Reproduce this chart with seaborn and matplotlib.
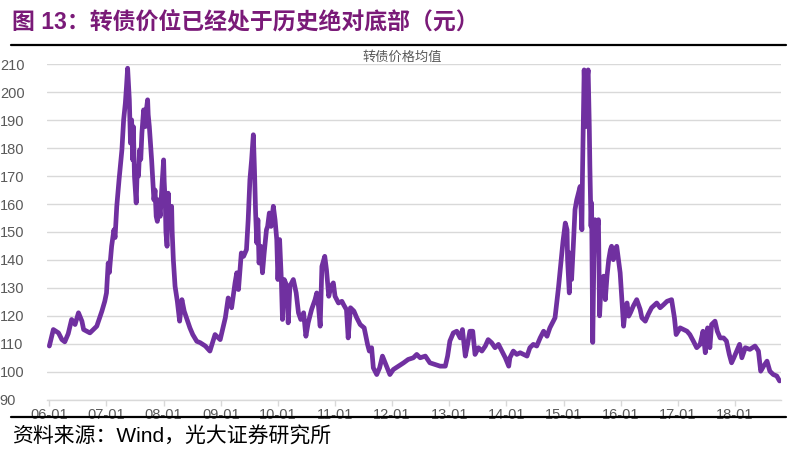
import numpy as np
import pandas as pd
import matplotlib
matplotlib.use("Agg")
import matplotlib.pyplot as plt
import seaborn as sns
from matplotlib.lines import Line2D

# ---------------- data ----------------
# time as years elapsed since 2006-01-01, and the average convertible-bond price
years_since_2006 = [
    0.00, 0.07, 0.16, 0.22, 0.27, 0.33, 0.39, 0.45, 0.51, 0.57, 0.60, 0.71, 0.83, 0.92,
    0.97, 1.00, 1.03, 1.05, 1.09, 1.13, 1.15, 1.18, 1.22, 1.27,
    1.30, 1.33, 1.35, 1.37, 1.38, 1.40, 1.42, 1.44, 1.46, 1.47,
    1.49, 1.52, 1.54, 1.56, 1.58, 1.60, 1.62, 1.65, 1.68, 1.70,
    1.72, 1.73, 1.75, 1.79, 1.83, 1.85, 1.87, 1.89, 1.91, 1.94,
    1.97, 2.00, 2.01, 2.03, 2.04, 2.06, 2.08, 2.09, 2.11, 2.14,
    2.15, 2.17, 2.20,
    2.24, 2.28, 2.32, 2.36, 2.40, 2.46, 2.51, 2.58, 2.64, 2.73, 2.81, 2.90, 2.99, 3.08, 3.13, 3.19,
    3.25, 3.28, 3.31, 3.36, 3.40, 3.45, 3.48, 3.51, 3.54, 3.57,
    3.59, 3.61, 3.63, 3.65, 3.67, 3.70, 3.73, 3.76, 3.80, 3.82,
    3.85, 3.88, 3.92, 3.95, 3.98, 4.00, 4.03, 4.06, 4.08, 4.11,
    4.16, 4.18, 4.21, 4.27, 4.32, 4.36, 4.40, 4.45, 4.49, 4.53,
    4.59, 4.65, 4.68, 4.71, 4.74, 4.77, 4.82, 4.85, 4.89, 4.93,
    4.97, 5.00, 5.06, 5.12,
    5.15, 5.20, 5.23, 5.27, 5.33, 5.38, 5.44, 5.51, 5.57, 5.60, 5.64, 5.67, 5.73, 5.78,
    5.83, 5.89, 5.96, 6.02, 6.11, 6.20, 6.28, 6.37, 6.43, 6.49, 6.58, 6.66, 6.75, 6.84, 6.93,
    6.97, 7.01, 7.07, 7.13, 7.19, 7.23, 7.28, 7.32, 7.36, 7.41, 7.45, 7.51, 7.57, 7.63, 7.68,
    7.74, 7.80, 7.86, 7.92, 7.98, 8.04, 8.06, 8.12, 8.18, 8.24, 8.30, 8.36, 8.41, 8.47, 8.53,
    8.59, 8.65, 8.71, 8.76, 8.85, 8.91, 8.95, 8.99,
    9.03, 9.06, 9.07, 9.10, 9.11, 9.14, 9.17, 9.20, 9.23, 9.26,
    9.29, 9.32, 9.33, 9.36, 9.39, 9.41, 9.43, 9.45, 9.46, 9.48,
    9.49, 9.51, 9.53, 9.55, 9.57, 9.61, 9.63, 9.66, 9.70, 9.73,
    9.76, 9.79, 9.82, 9.84, 9.87, 9.90, 9.93, 9.96, 9.99, 10.02,
    10.05, 10.08, 10.11, 10.14, 10.17, 10.22, 10.28, 10.34,
    10.37, 10.43, 10.48, 10.54, 10.63, 10.69, 10.75, 10.81, 10.89, 10.94, 10.97, 11.04,
    11.10, 11.16, 11.21, 11.27, 11.33, 11.39, 11.44, 11.48, 11.52, 11.56, 11.59, 11.65, 11.69,
    11.74, 11.80, 11.85, 11.90, 11.94, 11.98, 12.03, 12.08, 12.12, 12.18, 12.26, 12.35, 12.41,
    12.45, 12.50, 12.56, 12.61, 12.67, 12.73, 12.78,
]
avg_price = [
    109.2, 115.1, 113.9, 111.5, 110.7, 113.6, 118.7, 116.9, 121.1, 118.1, 115.1, 113.9, 116.3, 121.7,
    125.2, 128.2, 138.9, 135.5, 144.9, 150.8, 148.0, 159.2, 168.7, 179.4,
    190.1, 196.1, 202.0, 208.6, 205.0, 197.3, 181.8, 190.1, 175.8, 187.7,
    169.9, 160.4, 173.5, 170.0, 179.4, 176.0, 185.4, 193.7, 187.7, 194.0,
    197.3, 192.0, 187.7, 175.8, 161.5, 165.0, 155.6, 153.8, 161.5, 155.6,
    166.3, 175.8, 168.0, 160.0, 150.0, 144.9, 163.9, 152.0, 155.6, 159.2,
    150.0, 140.1, 130.6,
    125.2, 118.1, 125.8, 121.7, 119.3, 115.7, 113.3, 110.9, 110.4, 109.2, 107.4, 113.3, 111.5, 119.3, 126.4, 122.9,
    131.8, 135.4, 129.4, 142.5, 141.3, 143.7, 154.4, 168.7, 175.8, 184.8,
    172.3, 156.8, 146.1, 154.4, 138.9, 144.9, 135.4, 142.5, 150.8, 152.0,
    156.8, 152.0, 159.2, 154.4, 147.3, 133.0, 147.3, 133.0, 118.7, 133.0,
    130.6, 117.5, 130.6, 133.0, 128.2, 121.1, 118.7, 121.1, 112.7, 117.5,
    122.3, 125.8, 128.2, 123.5, 116.3, 137.7, 141.3, 136.5, 127.0, 130.6,
    131.8, 127.0, 124.6, 125.2,
    124.0, 122.2, 112.1, 122.9, 121.7, 119.3, 116.9, 115.7, 109.7, 107.4, 108.6, 101.4, 99.0, 101.4,
    105.6, 102.6, 99.0, 100.8, 102.0, 103.2, 104.4, 105.0, 106.2, 105.0, 105.6, 103.2, 102.6, 102.0, 102.0,
    105.6, 111.0, 113.9, 114.5, 112.1, 115.1, 105.6, 109.8, 114.5, 114.5, 106.2, 108.6, 107.4, 109.2, 111.5,
    110.4, 108.6, 109.8, 107.4, 105.0, 102.0, 105.0, 107.4, 106.2, 106.8, 106.2, 105.6, 108.6, 109.8, 109.2,
    112.1, 114.5, 112.7, 115.7, 119.3, 130.0, 138.3, 146.7,
    153.2, 150.8, 140.1, 128.2, 142.5, 133.0, 145.0, 158.0, 161.5, 163.9,
    166.3, 150.8, 169.9, 208.0, 187.7, 204.4, 208.0, 187.7, 173.5, 152.0,
    160.4, 110.5, 140.1, 154.4, 148.5, 154.4, 120.0, 133.0, 134.2, 125.8,
    134.2, 140.1, 143.7, 144.9, 140.1, 143.7, 144.9, 140.1, 135.4, 125.8,
    116.3, 122.3, 124.6, 119.9, 121.1, 123.5, 125.8, 122.3,
    119.3, 118.1, 120.5, 122.9, 124.6, 122.9, 124.0, 125.2, 125.8, 119.3, 113.3, 115.7,
    115.1, 114.5, 113.3, 111.0, 108.6, 109.8, 114.5, 106.8, 115.7, 108.6, 116.9, 118.1, 114.5,
    112.1, 112.1, 111.0, 106.2, 103.2, 105.0, 107.4, 109.8, 105.0, 108.6, 108.0, 109.2, 107.4,
    100.2, 102.0, 103.8, 100.2, 99.0, 98.5, 96.7,
]
series_name = "转债价格均值"
x_tick_years = list(range(2006, 2019))
x_tick_labels = ["06-01", "07-01", "08-01", "09-01", "10-01", "11-01", "12-01",
                 "13-01", "14-01", "15-01", "16-01", "17-01", "18-01"]
y_ticks = [90, 100, 110, 120, 130, 140, 150, 160, 170, 180, 190, 200, 210]
title_text = "图 13：转债价位已经处于历史绝对底部（元）"
source_text = "资料来源：Wind，光大证券研究所"

# ---------------- build frame ----------------
base = pd.Timestamp("2006-01-01")
dates = base + pd.to_timedelta(np.array(years_since_2006) * 365.25, unit="D")
df = pd.DataFrame({"date": dates, "value": avg_price})

sns.set_theme(style="white")
plt.rcParams["font.family"] = ["Liberation Sans", "Noto Sans CJK SC", "DejaVu Sans"]

W, H = 796, 454
fig = plt.figure(figsize=(W / 100, H / 100), dpi=100)
ax = fig.add_axes([47 / W, 1 - 399.7 / H, (781 - 47) / W, (399.7 - 64.3) / H])

line_color = "#7030A0"
sns.lineplot(data=df, x="date", y="value", ax=ax, color=line_color,
             linewidth=3.4, legend=False, solid_joinstyle="round")

ax.set_ylim(90, 210)
x0 = base - pd.Timedelta(days=15)
x1 = base + pd.Timedelta(days=12.805 * 365.25)
ax.set_xlim(x0, x1)

ax.set_yticks(y_ticks)
ax.set_yticklabels([str(v) for v in y_ticks])
ax.set_xticks([pd.Timestamp(f"{y}-01-01") for y in x_tick_years])
ax.set_xticklabels(x_tick_labels)

ax.set_xlabel("")
ax.set_ylabel("")
for s in ["top", "right", "left"]:
    ax.spines[s].set_visible(False)
ax.spines["bottom"].set_color("#D9D9D9")
ax.spines["bottom"].set_linewidth(1.0)

ax.grid(axis="y", color="#D9D9D9", linewidth=1.0)
ax.grid(axis="x", visible=False)
ax.set_axisbelow(True)

ax.tick_params(axis="x", length=4, width=1, color="#D9D9D9", labelsize=10.5,
               labelcolor="#595959", pad=2, direction="out", bottom=True)
ax.tick_params(axis="y", length=0, labelsize=10.5, labelcolor="#595959", pad=34)
for lab in ax.get_yticklabels():
    lab.set_horizontalalignment("left")

# legend text (no marker, as in reference)
fig.text(402 / W, 1 - 57 / H, series_name, ha="center", va="center",
         fontsize=9.5, color="#595959", family=["Noto Sans CJK SC", "DejaVu Sans"])

# title
fig.text(12 / W, 1 - 22 / H, title_text, ha="left", va="center", fontsize=16.5,
         fontweight="bold", color="#7A1A78",
         family=["Liberation Sans", "Noto Sans CJK SC", "DejaVu Sans"])

# horizontal rules
fig.add_artist(Line2D([11 / W, 786 / W], [1 - 44.5 / H, 1 - 44.5 / H],
                      transform=fig.transFigure, color="black", linewidth=1.6))
fig.add_artist(Line2D([11 / W, 786 / W], [1 - 416.5 / H, 1 - 416.5 / H],
                      transform=fig.transFigure, color="black", linewidth=1.6))

# source
fig.text(12 / W, 1 - 437 / H, source_text, ha="left", va="center", fontsize=15,
         color="black", family=["Liberation Sans", "Noto Sans CJK SC", "DejaVu Sans"])

fig.savefig("out.png", dpi=100)
